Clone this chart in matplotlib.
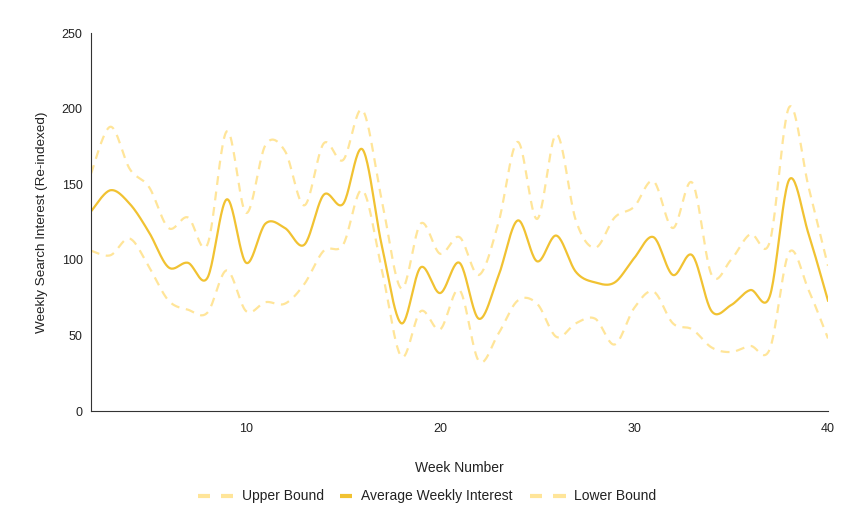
import matplotlib.pyplot as plt
import numpy as np
from matplotlib.lines import Line2D

plt.rcParams["font.family"] = ["Liberation Sans", "DejaVu Sans"]

weeks = list(range(2, 41))

upper_bound = [157, 188, 160, 148, 121, 128, 110, 185, 131, 176,
               172, 136, 177, 166, 199, 139, 81, 124, 104, 115,
               90, 124, 178, 127, 183, 126, 108, 128, 135, 152,
               121, 151, 90, 100, 117, 112, 201, 148, 96]
average_interest = [132, 146, 137, 118, 95, 98, 88, 140, 98, 124,
                    121, 110, 143, 137, 173, 109, 58, 95, 78, 98,
                    61, 89, 126, 99, 116, 92, 85, 85, 101, 115,
                    90, 103, 66, 70, 80, 76, 153, 117, 73]
lower_bound = [106, 103, 114, 95, 73, 67, 65, 93, 66, 72,
               71, 84, 106, 110, 146, 93, 36, 66, 54, 80,
               33, 51, 73, 71, 49, 58, 61, 44, 68, 79,
               58, 54, 42, 39, 43, 41, 105, 80, 48]

series_names = ["Upper Bound", "Average Weekly Interest", "Lower Bound"]


def smooth(x, y, n=24):
    """Catmull-Rom spline through the points"""
    x = np.asarray(x, float)
    y = np.asarray(y, float)
    px = np.concatenate([[x[0]], x, [x[-1]]])
    py = np.concatenate([[y[0]], y, [y[-1]]])
    t = np.linspace(0, 1, n, endpoint=False)
    xs, ys = [], []
    for i in range(1, len(px) - 2):
        for p, out in ((px, xs), (py, ys)):
            p0, p1, p2, p3 = p[i - 1], p[i], p[i + 1], p[i + 2]
            out.append(0.5 * (2 * p1 + (-p0 + p2) * t
                              + (2 * p0 - 5 * p1 + 4 * p2 - p3) * t ** 2
                              + (-p0 + 3 * p1 - 3 * p2 + p3) * t ** 3))
    xs.append([x[-1]])
    ys.append([y[-1]])
    return np.concatenate(xs), np.concatenate(ys)


bound_color = "#FFE599"
avg_color = "#F1C232"
text_color = "#222222"

W, H = 855, 530
fig = plt.figure(figsize=(W / 100, H / 100), dpi=100)
ax = fig.add_axes([91 / W, 1 - 411 / H, 737 / W, 378 / H])

ax.plot(*smooth(weeks, upper_bound), color=bound_color, linewidth=1.6,
        dashes=(4, 3))
ax.plot(*smooth(weeks, lower_bound), color=bound_color, linewidth=1.6,
        dashes=(4, 3))
ax.plot(*smooth(weeks, average_interest), color=avg_color, linewidth=1.6)

ax.set_xlim(2, 40)
ax.set_ylim(0, 250)
ax.set_xticks([10, 20, 30, 40])
ax.set_yticks([0, 50, 100, 150, 200, 250])
ax.tick_params(length=0, labelsize=9, colors=text_color)
ax.tick_params(axis="x", pad=9)
ax.tick_params(axis="y", pad=6)
for side in ["top", "right"]:
    ax.spines[side].set_visible(False)
for side in ["left", "bottom"]:
    ax.spines[side].set_color("#333333")

ax.set_xlabel("Week Number", fontsize=10, color=text_color, labelpad=18)
ax.set_ylabel("Weekly Search Interest (Re-indexed)", fontsize=9.7,
              color=text_color, labelpad=10)

# legend drawn by hand: Google-style short line samples
legend_y = 1 - 496 / H
samples = [
    ([(198, 210), (221, 233)], bound_color, 242),
    ([(340, 352)], avg_color, 361),
    ([(530, 542), (553, 566)], bound_color, 574),
]
for (pieces, color, text_x), name in zip(samples, series_names):
    for x0, x1 in pieces:
        fig.add_artist(Line2D([x0 / W, x1 / W], [legend_y, legend_y],
                              color=color, linewidth=3,
                              solid_capstyle="butt"))
    fig.text(text_x / W, legend_y, name, fontsize=10, color=text_color,
             ha="left", va="center")

fig.savefig("out.png", dpi=100)
